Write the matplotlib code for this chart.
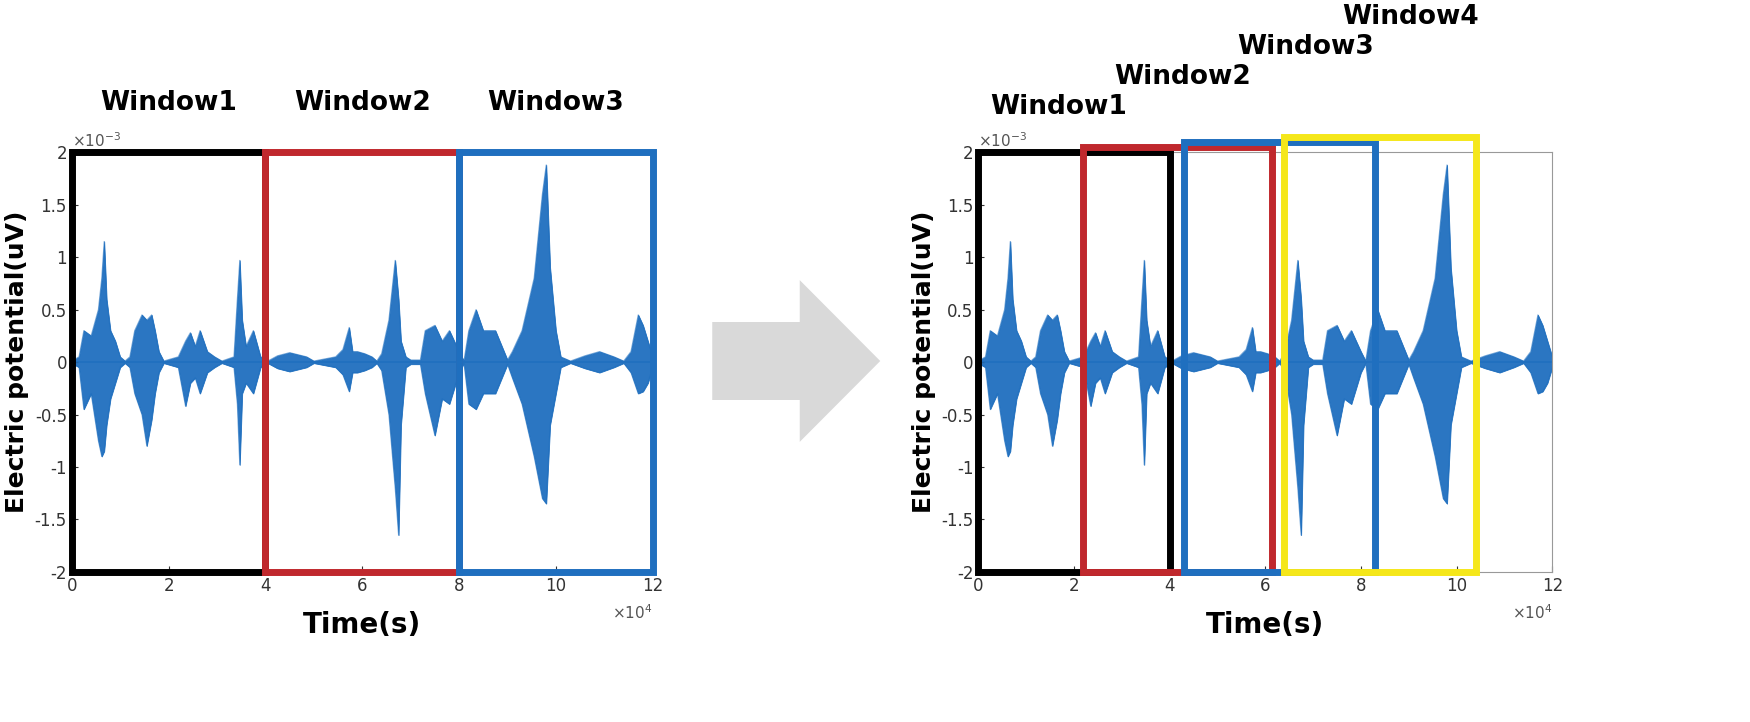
import numpy as np
import matplotlib.pyplot as plt
from matplotlib.patches import Rectangle, Polygon

env_t = [0.0, 0.15, 0.25, 0.4, 0.55, 0.62, 0.67, 0.72, 0.8, 0.9, 1.0, 1.1,
         1.2, 1.3, 1.45, 1.55, 1.65, 1.72, 1.8, 1.9,
         2.2, 2.35, 2.45, 2.55, 2.65, 2.8, 2.95, 3.1,
         3.35, 3.42, 3.47, 3.52, 3.6, 3.75, 3.9, 4.05,
         4.25, 4.5, 4.85, 5.0,
         5.45, 5.6, 5.73, 5.8, 5.9, 6.05, 6.2, 6.3,
         6.4, 6.55, 6.68, 6.75, 6.8, 6.9, 7.0, 7.1, 7.2,
         7.3, 7.5, 7.65, 7.8, 8.0, 8.1,
         8.2, 8.35, 8.5, 8.75, 9.0, 9.1, 9.3, 9.55, 9.72, 9.8, 9.88, 10.0, 10.1, 10.3,
         10.6, 10.9, 11.2, 11.4,
         11.55, 11.7, 11.8, 11.9, 12.0]
env_hi = [0.01, 0.05, 0.3, 0.25, 0.5, 0.8, 1.15, 0.6, 0.3, 0.2, 0.05, 0.01,
          0.05, 0.3, 0.45, 0.4, 0.45, 0.3, 0.1, 0.01,
          0.05, 0.2, 0.28, 0.15, 0.3, 0.1, 0.05, 0.01,
          0.05, 0.6, 0.97, 0.4, 0.15, 0.3, 0.05, 0.01,
          0.06, 0.09, 0.05, 0.01,
          0.05, 0.12, 0.33, 0.1, 0.1, 0.08, 0.05, 0.01,
          0.08, 0.4, 0.97, 0.6, 0.2, 0.05, 0.02, 0.02, 0.02,
          0.3, 0.35, 0.2, 0.3, 0.1, 0.01,
          0.3, 0.5, 0.3, 0.3, 0.02, 0.1, 0.3, 0.8, 1.6, 1.88, 0.9, 0.3, 0.05, 0.01,
          0.06, 0.1, 0.05, 0.01,
          0.1, 0.45, 0.35, 0.2, 0.05]
env_lo = [-0.01, -0.05, -0.45, -0.3, -0.75, -0.9, -0.85, -0.6, -0.35, -0.2, -0.05, -0.01,
          -0.05, -0.3, -0.5, -0.8, -0.55, -0.3, -0.1, -0.01,
          -0.05, -0.42, -0.2, -0.15, -0.3, -0.1, -0.05, -0.01,
          -0.05, -0.4, -0.98, -0.3, -0.2, -0.3, -0.05, -0.01,
          -0.06, -0.09, -0.05, -0.01,
          -0.05, -0.12, -0.28, -0.1, -0.1, -0.08, -0.05, -0.01,
          -0.08, -0.5, -1.2, -1.65, -0.6, -0.05, -0.02, -0.02, -0.02,
          -0.3, -0.7, -0.35, -0.4, -0.1, -0.01,
          -0.4, -0.45, -0.3, -0.3, -0.02, -0.15, -0.4, -0.9, -1.3, -1.35, -0.6, -0.3, -0.05, -0.01,
          -0.06, -0.1, -0.05, -0.01,
          -0.1, -0.3, -0.28, -0.2, -0.05]

left_windows = [(0, 4, "Window1", "black"), (4, 8, "Window2", "#c0282d"), (8, 12, "Window3", "#1f6fbf")]
# start, end, top, label, colour
right_windows = [(0, 4, 2.0, "Window1", "black"), (2.2, 6.15, 2.05, "Window2", "#c0282d"),
                 (4.3, 8.3, 2.1, "Window3", "#1f6fbf"), (6.4, 10.4, 2.15, "Window4", "#f5e71a")]
right_label_pos = [(0.605, 0.87), (0.676, 0.912), (0.746, 0.953), (0.806, 0.995)]

sig_color = "#1f6fbf"
fig = plt.figure(figsize=(17.5, 7.22), dpi=100)
axL = fig.add_axes([0.041, 0.208, 0.332, 0.581])
axR = fig.add_axes([0.559, 0.208, 0.328, 0.581])

t = np.array(env_t) * 1e4
hi = np.array(env_hi) * 1e-3
lo = np.array(env_lo) * 1e-3

for ax in (axL, axR):
    ax.fill_between(t, lo, hi, color=sig_color, lw=0.6, alpha=0.95)
    ax.plot(t, hi, color=sig_color, lw=0.8, alpha=0.6)
    ax.plot(t, lo, color=sig_color, lw=0.8, alpha=0.6)
    ax.axhline(0, color=sig_color, lw=1.2)
    ax.set_xlim(0, 12e4)
    ax.set_ylim(-2e-3, 2e-3)
    ax.set_xticks([0, 2e4, 4e4, 6e4, 8e4, 10e4, 12e4])
    ax.set_xticklabels(["0", "2", "4", "6", "8", "10", "12"])
    ax.set_yticks([-2e-3, -1.5e-3, -1e-3, -0.5e-3, 0, 0.5e-3, 1e-3, 1.5e-3, 2e-3])
    ax.set_yticklabels(["-2", "-1.5", "-1", "-0.5", "0", "0.5", "1", "1.5", "2"])
    ax.tick_params(labelsize=12, colors="#333333", direction="in", length=4)
    for s in ax.spines.values():
        s.set_color("#999999")
        s.set_linewidth(0.8)
    ax.set_xlabel("Time(s)", fontsize=20, fontweight="bold", labelpad=12)
    ax.set_ylabel("Electric potential(uV)", fontsize=18, fontweight="bold", labelpad=4)
    ax.text(0.0, 1.005, r"$\times10^{-3}$", transform=ax.transAxes, fontsize=11, color="#555555", va="bottom")
    ax.text(1.0, -0.075, r"$\times10^{4}$", transform=ax.transAxes, fontsize=11, color="#555555", ha="right", va="top")

for x0, x1, lab, col in left_windows:
    axL.add_patch(Rectangle((x0 * 1e4, -2e-3), (x1 - x0) * 1e4, 4e-3, fill=False, ec=col, lw=5, clip_on=False, zorder=5))
    axL.text((x0 + x1) / 2 * 1e4, 2.35e-3, lab, ha="center", va="bottom", fontsize=19, fontweight="bold")

for (x0, x1, top, lab, col), (fx, fy) in zip(right_windows, right_label_pos):
    axR.add_patch(Rectangle((x0 * 1e4, -2e-3), (x1 - x0) * 1e4, (top + 2) * 1e-3, fill=False, ec=col, lw=5, clip_on=False, zorder=5))
    fig.text(fx, fy, lab, ha="center", va="top", fontsize=19, fontweight="bold")

arrow = [(0.407, 0.554), (0.457, 0.554), (0.457, 0.612), (0.503, 0.5), (0.457, 0.388), (0.457, 0.446), (0.407, 0.446)]
fig.patches.append(Polygon(arrow, closed=True, transform=fig.transFigure, fc="#d9d9d9", ec="none"))

fig.savefig("out.png", dpi=100)
